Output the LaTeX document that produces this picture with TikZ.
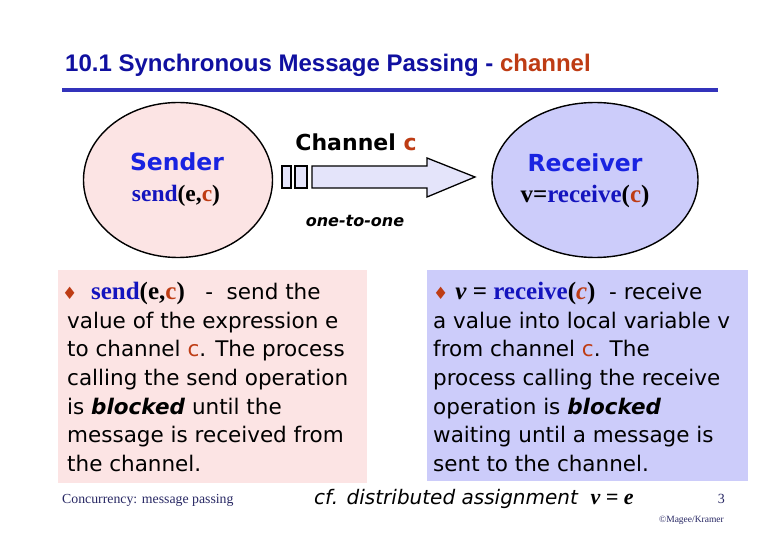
\documentclass[tikz,border=0pt]{standalone}
\usepackage{fontspec}
\setmainfont{Liberation Serif}
\newfontfamily\comic{DejaVu Sans}
\newfontfamily\arialf{Liberation Sans}
\newfontfamily\symf{DejaVu Sans}
\usetikzlibrary{shapes.geometric}
\definecolor{ttlblue}{RGB}{16,16,160}
\definecolor{rulblue}{RGB}{51,51,187}
\definecolor{chred}{RGB}{190,60,20}
\definecolor{txtblue}{RGB}{25,35,225}
\definecolor{serblue}{RGB}{20,20,190}
\definecolor{pinkf}{RGB}{252,228,228}
\definecolor{lavf}{RGB}{204,204,250}
\definecolor{arrf}{RGB}{228,228,250}
\definecolor{footc}{RGB}{40,40,100}
\newcommand{\dmd}{{\symf\fontsize{17}{17}\selectfont\textcolor{chred}{♦}}}
\newcommand{\cc}{\textcolor{chred}{c}}
\begin{document}
\begin{tikzpicture}[x=1pt,y=-1pt,
  procell/.style={ellipse,draw=black,line width=1.4pt,inner sep=0pt},
  infobox/.style={anchor=north west,inner sep=0pt,minimum width=#1},
  bodytxt/.style={anchor=base west,inner sep=0pt,font=\comic\fontsize{21.5}{26}\selectfont},
  celltitle/.style={inner sep=0pt,font=\comic\bfseries\fontsize{23.5}{26}\selectfont,text=txtblue},
  shape outline/.style={draw=black,line width=1.3pt,fill=arrf}]
\useasboundingbox (0,0) rectangle (780,540);
\fill[white] (0,0) rectangle (780,540);
% title
\node[anchor=base west,inner sep=0pt] (title) at (65,72)
  {\arialf\bfseries\fontsize{24}{28}\selectfont\textcolor{ttlblue}{10.1 Synchronous Message Passing -} \textcolor{chred}{channel}};
\coordinate (ruleL) at (62,90);
\coordinate (ruleR) at (718,90);
\draw[rulblue,line width=4.5pt] (ruleL) -- (ruleR);
% sender
\node[procell,fill=pinkf,minimum width=189,minimum height=155] (sender) at (178,180) {};
\node[celltitle] (sendername) at (177,162) {Sender};
\node[inner sep=0pt,font=\bfseries\fontsize{23.5}{26}\selectfont] (sendercall) at (176,196)
  {\textcolor{serblue}{send}(e,\cc)};
% receiver
\node[procell,fill=lavf,minimum width=206,minimum height=155] (receiver) at (595,180) {};
\node[celltitle] (receivername) at (585,163) {Receiver};
\node[inner sep=0pt,font=\bfseries\fontsize{25}{28}\selectfont] (receivercall) at (585,196)
  {v=\textcolor{serblue}{receive}(\cc)};
% channel
\node[inner sep=0pt,font=\comic\bfseries\fontsize{22}{26}\selectfont] (chname) at (356,142) {Channel \cc};
\draw[shape outline] (282,166) rectangle (291,188);
\draw[shape outline] (295,166) rectangle (307,188);
\draw[shape outline] (312,166) -- (427,166) -- (427,158) -- (475,177) -- (427,197) -- (427,188) -- (312,188) -- cycle;
\node[inner sep=0pt,font=\comic\bfseries\itshape\fontsize{16}{20}\selectfont] (onetoone) at (355,221) {one-to-one};
% info boxes
\node[infobox=309,fill=pinkf,minimum height=213] (lbox) at (58,270) {};
\node[infobox=321,fill=lavf,minimum height=211] (rbox) at (427,270) {};
% left text
\node[bodytxt] (l1) at (62,300) {\dmd\ \ {\bfseries\fontsize{25}{28}\selectfont\rmfamily\textcolor{serblue}{send}(e,\cc)}\ \ \ -\ \ send the};
\node[bodytxt] (l2) at (67,328.5) {value of the expression e};
\node[bodytxt] (l3) at (67,357) {to channel \cc. The process};
\node[bodytxt] (l4) at (67,385.5) {calling the send operation};
\node[bodytxt] (l5) at (67,414) {is \textbf{\itshape blocked} until the};
\node[bodytxt] (l6) at (67,442.5) {message is received from};
\node[bodytxt] (l7) at (67,471) {the channel.};
% right text
\node[bodytxt] (r1) at (433,300) {\dmd\ {\bfseries\fontsize{25}{28}\selectfont\rmfamily\textit{v} = \textcolor{serblue}{receive}(\textit{\cc})}\ \ - receive};
\node[bodytxt] (r2) at (433,328.5) {a value into local variable v};
\node[bodytxt] (r3) at (433,357) {from channel \cc. The};
\node[bodytxt] (r4) at (433,385.5) {process calling the receive};
\node[bodytxt] (r5) at (433,414) {operation is \textbf{\itshape blocked}};
\node[bodytxt] (r6) at (433,442.5) {waiting until a message is};
\node[bodytxt] (r7) at (433,471) {sent to the channel.};
% footer
\node[anchor=base west,inner sep=0pt,text=footc,font=\fontsize{13.8}{16}\selectfont] (foot) at (62,503) {Concurrency: message passing};
\node[anchor=base west,inner sep=0pt,font=\comic\itshape\fontsize{20}{22}\selectfont] (cf) at (314,504)
  {cf. distributed assignment\ \ {\rmfamily\bfseries\itshape\fontsize{22}{24}\selectfont v = e}};
\node[anchor=base east,inner sep=0pt,text=footc,font=\fontsize{14}{16}\selectfont] (pagenum) at (725,503) {3};
\node[anchor=base east,inner sep=0pt,text=footc,font=\fontsize{9.5}{11}\selectfont] (copyr) at (724,522) {©Magee/Kramer};
\end{tikzpicture}
\end{document}
